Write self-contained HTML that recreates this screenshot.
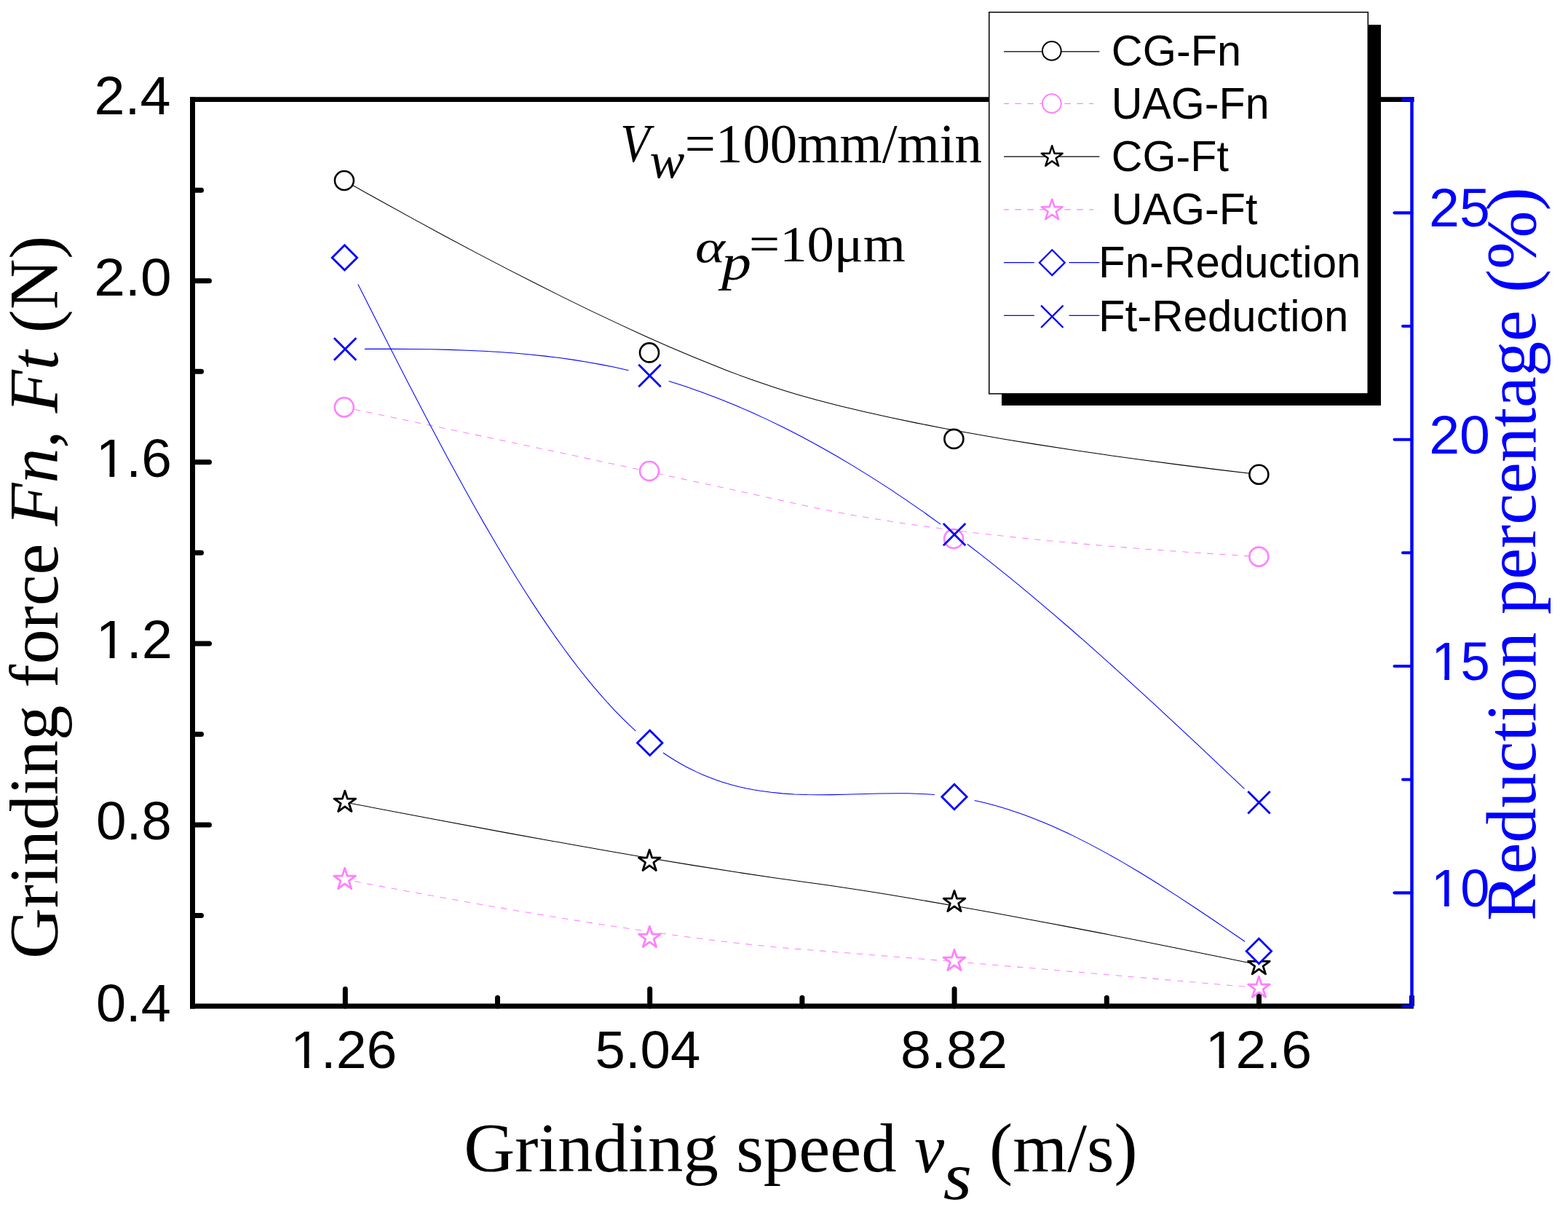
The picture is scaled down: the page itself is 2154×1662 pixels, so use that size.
<!DOCTYPE html><html><head><meta charset="utf-8"><title>Grinding force vs grinding speed</title>
<style>html,body{margin:0;padding:0;background:#fff;}svg{display:block;}.sans{font-family:"Liberation Sans",Arial,sans-serif;}.serif{font-family:"Liberation Serif","Times New Roman",serif;}</style></head><body>
<svg width="2154" height="1662" viewBox="0 0 2154 1662">
<rect x="0" y="0" width="2154" height="1662" fill="#fff"/>
<g stroke="#000" fill="none">
<path d="M261 136.7 H1942.6" stroke-width="6.8"/>
<path d="M264.5 133.3 V1385.6" stroke-width="7"/>
<path d="M261 1382 H1942" stroke-width="6.8"/>
<path d="M264.5 1257.47 H276.5" stroke-width="7" stroke-linecap="round"/>
<path d="M264.5 1132.94 H287.5" stroke-width="7" stroke-linecap="round"/>
<path d="M264.5 1008.41 H276.5" stroke-width="7" stroke-linecap="round"/>
<path d="M264.5 883.88 H287.5" stroke-width="7" stroke-linecap="round"/>
<path d="M264.5 759.35 H276.5" stroke-width="7" stroke-linecap="round"/>
<path d="M264.5 634.82 H287.5" stroke-width="7" stroke-linecap="round"/>
<path d="M264.5 510.29 H276.5" stroke-width="7" stroke-linecap="round"/>
<path d="M264.5 385.76 H287.5" stroke-width="7" stroke-linecap="round"/>
<path d="M264.5 261.23 H276.5" stroke-width="7" stroke-linecap="round"/>
<path d="M474.3 1382 V1358.5" stroke-width="7" stroke-linecap="round"/>
<path d="M892.7 1382 V1358.5" stroke-width="7" stroke-linecap="round"/>
<path d="M1311.1 1382 V1358.5" stroke-width="7" stroke-linecap="round"/>
<path d="M1729.5 1382 V1358.5" stroke-width="7" stroke-linecap="round"/>
<path d="M683.5 1382 V1370.5" stroke-width="7" stroke-linecap="round"/>
<path d="M1101.9 1382 V1370.5" stroke-width="7" stroke-linecap="round"/>
<path d="M1520.3 1382 V1370.5" stroke-width="7" stroke-linecap="round"/>
<path d="M1939.5 1382 V1367.4" stroke-width="7"/>
</g>
<g stroke="#0000ff" fill="none">
<path d="M1939.5 135.2 V1384" stroke-width="4.5"/>
<path d="M1939.5 1382 H1927" stroke-width="4" stroke-linecap="round"/>
<path d="M1939.5 1070.67 H1927" stroke-width="4" stroke-linecap="round"/>
<path d="M1939.5 759.35 H1927" stroke-width="4" stroke-linecap="round"/>
<path d="M1939.5 448.02 H1927" stroke-width="4" stroke-linecap="round"/>
<path d="M1939.5 136.7 H1927" stroke-width="4" stroke-linecap="round"/>
<path d="M1939.5 1226.34 H1915.5" stroke-width="4.1" stroke-linecap="round"/>
<path d="M1939.5 915.01 H1915.5" stroke-width="4.1" stroke-linecap="round"/>
<path d="M1939.5 603.69 H1915.5" stroke-width="4.1" stroke-linecap="round"/>
<path d="M1939.5 292.36 H1915.5" stroke-width="4.1" stroke-linecap="round"/>
</g>
<g fill="none" stroke-width="1.05">
<path d="M472.9 248 L518.48 273.53 L566.74 300.15 L609.65 323.43 L655.01 347.6 L695.25 368.62 L737.7 390.33 L775.27 409.11 L814.8 428.36 L849.7 444.88 L886.33 461.68 L918.56 475.95 L952.27 490.29 L984.46 503.34 L999.99 509.39 L1015.14 515.12 L1029.9 520.52 L1044.29 525.61 L1069.68 534.1 L1080.8 537.61 L1093.8 541.52 L1121.6 549.27 L1153.4 557.47 L1187.26 565.56 L1223.19 573.55 L1258.4 580.88 L1298.32 588.68 L1337.23 595.82 L1381.13 603.42 L1423.74 610.39 L1471.63 617.79 L1517.94 624.57 L1566.04 631.26 L1619.83 638.37 L1675.68 645.38 L1729.4 651.8" stroke="#000"/>
<path d="M473.8 1101.9 L591.02 1124.33 L695.82 1143.86 L792.39 1161.31 L837.59 1169.25 L880.72 1176.67 L952.63 1188.62 L1015.49 1198.53 L1065.53 1205.95 L1139.95 1216.32 L1192.71 1224.34 L1223.64 1229.31 L1256.08 1234.7 L1325.49 1246.74 L1368.77 1254.54 L1414.12 1262.92 L1461.52 1271.87 L1510.98 1281.39 L1562.49 1291.48 L1616.07 1302.15 L1729.4 1325.2" stroke="#000"/>
<path d="M472.8 559.3 L673.39 601.45 L843.39 637.54 L984.37 667.89 L1117.07 696.97 L1137.07 701.04 L1157.93 705.03 L1179.64 708.93 L1202.21 712.74 L1225.64 716.46 L1252.67 720.49 L1280.76 724.4 L1309.9 728.21 L1340.11 731.91 L1371.36 735.5 L1400.4 738.64 L1433.67 742.02 L1467.99 745.29 L1503.37 748.45 L1536.11 751.19 L1573.5 754.15 L1608.05 756.71 L1647.44 759.45 L1687.89 762.08 L1729.4 764.6" stroke="#ff80ff" stroke-dasharray="8.5 8.5" stroke-dashoffset="-14"/>
<path d="M473.6 1208 L551.47 1222.66 L629.34 1236.83 L699.41 1249.11 L765.68 1260.22 L831.33 1270.66 L889.8 1279.39 L944.46 1286.96 L971.71 1290.48 L997.9 1293.68 L1040.02 1298.37 L1061.08 1300.48 L1081.29 1302.33 L1218.44 1313.23 L1359.37 1324.89 L1532.87 1339.72 L1729.5 1356.9" stroke="#ff80ff" stroke-dasharray="8.5 8.5" stroke-dashoffset="-14"/>
<path d="M491.83 390.53 L530.36 466.75 L561.35 527.25 L589.41 581.05 L615.38 629.74 L640.5 675.61 L652.65 697.28 L664.38 717.87 L676.1 738.09 L687.41 757.23 L698.72 776 L709.61 793.71 L720.91 811.69 L731.8 828.6 L742.69 845.09 L753.58 861.15 L764.05 876.16 L774.52 890.74 L784.99 904.87 L795.04 917.99 L805.09 930.68 L815.15 942.91 L825.2 954.66 L834.83 965.48 L844.46 975.83 L854.09 985.72 L863.73 995.13 L873.36 1004.04" stroke="#0000ff"/>
<path d="M911.05 1033.98 L918.59 1039.04 L926.13 1043.79 L933.67 1048.26 L941.63 1052.68 L949.58 1056.79 L957.54 1060.62 L965.5 1064.16 L973.87 1067.61 L982.25 1070.76 L990.63 1073.64 L999 1076.25 L1007.8 1078.73 L1016.59 1080.93 L1025.81 1082.98 L1035.02 1084.76 L1044.23 1086.3 L1059.31 1088.34 L1074.81 1089.86 L1091.14 1090.93 L1108.73 1091.55 L1124.64 1091.73 L1142.65 1091.61 L1160.66 1091.25 L1207.15 1090.02 L1233.11 1089.72 L1246.94 1089.83 L1259.92 1090.17 L1272.06 1090.72 L1283.79 1091.51" stroke="#0000ff"/>
<path d="M1338.65 1099.43 L1347.87 1101.49 L1357.08 1103.75 L1366.29 1106.21 L1375.93 1108.99 L1385.56 1111.97 L1395.19 1115.15 L1404.83 1118.53 L1414.88 1122.25 L1424.93 1126.17 L1434.98 1130.28 L1445.03 1134.57 L1455.5 1139.24 L1465.97 1144.09 L1476.44 1149.13 L1498.22 1160.14 L1520 1171.84 L1542.19 1184.4 L1565.65 1198.3 L1589.94 1213.28 L1615.48 1229.59 L1642.71 1247.48 L1672.86 1267.75 L1710.13 1293.24" stroke="#0000ff"/>
<path d="M500.89 479.39 L536.05 479.35 L565.36 479.49 L592.15 479.83 L616.84 480.38 L640.71 481.18 L663.73 482.22 L685.5 483.5 L706.85 485.06 L728.19 486.96 L748.71 489.12 L768.8 491.59 L788.47 494.37 L807.73 497.46 L826.57 500.86 L844.99 504.57 L863.4 508.67" stroke="#0000ff"/>
<path d="M918.66 523.53 L940.85 530.61 L963.45 538.46 L986.06 546.96 L1009.08 556.27 L1031.68 566.03 L1054.71 576.6 L1077.73 587.8 L1101.17 599.83 L1124.61 612.48 L1148.06 625.75 L1171.5 639.62 L1195.36 654.34 L1219.22 669.67 L1243.5 685.87 L1267.78 702.67 L1292.06 720.06" stroke="#0000ff"/>
<path d="M1328.89 747.53 L1348.15 762.39 L1367.41 777.58 L1387.08 793.41 L1407.17 809.89 L1427.68 827.03 L1448.62 844.81 L1469.96 863.24 L1492.15 882.68 L1514.34 902.38 L1537.36 923.09 L1561.22 944.79 L1586.34 967.87 L1640.34 1018.15 L1709.41 1083.28" stroke="#0000ff"/>
</g>
<circle cx="472.9" cy="248" r="13.0" fill="#fff" stroke="#000" stroke-width="2.6"/>
<circle cx="892" cy="484.4" r="13.0" fill="#fff" stroke="#000" stroke-width="2.6"/>
<circle cx="1310.4" cy="602.9" r="13.0" fill="#fff" stroke="#000" stroke-width="2.6"/>
<circle cx="1729.4" cy="651.8" r="13.0" fill="#fff" stroke="#000" stroke-width="2.6"/>
<circle cx="472.8" cy="559.3" r="13.0" fill="#fff" stroke="#ff80ff" stroke-width="2.6"/>
<circle cx="892" cy="647" r="13.0" fill="#fff" stroke="#ff80ff" stroke-width="2.6"/>
<circle cx="1310.1" cy="740" r="13.0" fill="#fff" stroke="#ff80ff" stroke-width="2.6"/>
<circle cx="1729.4" cy="764.6" r="13.0" fill="#fff" stroke="#ff80ff" stroke-width="2.6"/>
<polygon points="473.8,1086.3 477.3,1097.08 488.64,1097.08 479.47,1103.74 482.97,1114.52 473.8,1107.86 464.63,1114.52 468.13,1103.74 458.96,1097.08 470.3,1097.08" fill="#fff" stroke="#000" stroke-width="2.8" stroke-linejoin="round"/>
<polygon points="892.2,1167.3 895.7,1178.08 907.04,1178.08 897.87,1184.74 901.37,1195.52 892.2,1188.86 883.03,1195.52 886.53,1184.74 877.36,1178.08 888.7,1178.08" fill="#fff" stroke="#000" stroke-width="2.8" stroke-linejoin="round"/>
<polygon points="1311,1223.4 1314.5,1234.18 1325.84,1234.18 1316.67,1240.84 1320.17,1251.62 1311,1244.96 1301.83,1251.62 1305.33,1240.84 1296.16,1234.18 1307.5,1234.18" fill="#fff" stroke="#000" stroke-width="2.8" stroke-linejoin="round"/>
<polygon points="1729.4,1309.6 1732.9,1320.38 1744.24,1320.38 1735.07,1327.04 1738.57,1337.82 1729.4,1331.16 1720.23,1337.82 1723.73,1327.04 1714.56,1320.38 1725.9,1320.38" fill="#fff" stroke="#000" stroke-width="2.8" stroke-linejoin="round"/>
<polygon points="473.6,1192.4 477.1,1203.18 488.44,1203.18 479.27,1209.84 482.77,1220.62 473.6,1213.96 464.43,1220.62 467.93,1209.84 458.76,1203.18 470.1,1203.18" fill="#fff" stroke="#ff80ff" stroke-width="2.8" stroke-linejoin="round"/>
<polygon points="892.4,1272.4 895.9,1283.18 907.24,1283.18 898.07,1289.84 901.57,1300.62 892.4,1293.96 883.23,1300.62 886.73,1289.84 877.56,1283.18 888.9,1283.18" fill="#fff" stroke="#ff80ff" stroke-width="2.8" stroke-linejoin="round"/>
<polygon points="1311,1304.4 1314.5,1315.18 1325.84,1315.18 1316.67,1321.84 1320.17,1332.62 1311,1325.96 1301.83,1332.62 1305.33,1321.84 1296.16,1315.18 1307.5,1315.18" fill="#fff" stroke="#ff80ff" stroke-width="2.8" stroke-linejoin="round"/>
<polygon points="1729.5,1341.3 1733,1352.08 1744.34,1352.08 1735.17,1358.74 1738.67,1369.52 1729.5,1362.86 1720.33,1369.52 1723.83,1358.74 1714.66,1352.08 1726,1352.08" fill="#fff" stroke="#ff80ff" stroke-width="2.8" stroke-linejoin="round"/>
<polygon points="473.4,336.7 490.6,353.9 473.4,371.1 456.2,353.9" fill="#fff" stroke="#0000ff" stroke-width="2.8"/>
<polygon points="892.7,1003.2 909.9,1020.4 892.7,1037.6 875.5,1020.4" fill="#fff" stroke="#0000ff" stroke-width="2.8"/>
<polygon points="1311,1077.3 1328.2,1094.5 1311,1111.7 1293.8,1094.5" fill="#fff" stroke="#0000ff" stroke-width="2.8"/>
<polygon points="1729.4,1289.3 1746.6,1306.5 1729.4,1323.7 1712.2,1306.5" fill="#fff" stroke="#0000ff" stroke-width="2.8"/>
<path d="M458.9 464.3L489.3 494.7M458.9 494.7L489.3 464.3" stroke="#0000ff" stroke-width="2.8" fill="none"/>
<path d="M877.3 500.8L907.7 531.2M877.3 531.2L907.7 500.8" stroke="#0000ff" stroke-width="2.8" fill="none"/>
<path d="M1295.9 718.9L1326.3 749.3M1295.9 749.3L1326.3 718.9" stroke="#0000ff" stroke-width="2.8" fill="none"/>
<path d="M1714.3 1087.1L1744.7 1117.5M1714.3 1117.5L1744.7 1087.1" stroke="#0000ff" stroke-width="2.8" fill="none"/>
<g transform="translate(129.60 156.90) scale(1.0489 1.0176)"><text x="0" y="0" style="font-family:'Liberation Sans',Arial,sans-serif;font-size:72px;" fill="#000">2.4</text></g>
<g transform="translate(129.14 406.00) scale(1.0645 1.0157)"><text x="0" y="0" style="font-family:'Liberation Sans',Arial,sans-serif;font-size:72px;" fill="#000">2.0</text></g>
<g transform="translate(131.72 654.90) scale(1.0400 1.0176)"><text x="0" y="0" style="font-family:'Liberation Sans',Arial,sans-serif;font-size:72px;" fill="#000">1.6</text><rect x="3.16" y="-6.58" width="14.87" height="7.58" fill="#fff"/><rect x="24.54" y="-6.58" width="14.48" height="7.58" fill="#fff"/></g>
<g transform="translate(131.64 904.30) scale(1.0517 1.0176)"><text x="0" y="0" style="font-family:'Liberation Sans',Arial,sans-serif;font-size:72px;" fill="#000">1.2</text><rect x="3.16" y="-6.58" width="14.87" height="7.58" fill="#fff"/><rect x="24.54" y="-6.58" width="14.48" height="7.58" fill="#fff"/></g>
<g transform="translate(131.99 1153.40) scale(1.0372 1.0176)"><text x="0" y="0" style="font-family:'Liberation Sans',Arial,sans-serif;font-size:72px;" fill="#000">0.8</text></g>
<g transform="translate(132.02 1402.60) scale(1.0263 1.0157)"><text x="0" y="0" style="font-family:'Liberation Sans',Arial,sans-serif;font-size:72px;" fill="#000">0.4</text></g>
<g transform="translate(398.99 1466.80) scale(1.0446 1.0157)"><text x="0" y="0" style="font-family:'Liberation Sans',Arial,sans-serif;font-size:72px;" fill="#000">1.26</text><rect x="3.16" y="-6.58" width="14.87" height="7.58" fill="#fff"/><rect x="24.54" y="-6.58" width="14.48" height="7.58" fill="#fff"/></g>
<g transform="translate(817.60 1466.60) scale(1.0326 1.0118)"><text x="0" y="0" style="font-family:'Liberation Sans',Arial,sans-serif;font-size:72px;" fill="#000">5.04</text></g>
<g transform="translate(1236.95 1466.60) scale(1.0496 1.0078)"><text x="0" y="0" style="font-family:'Liberation Sans',Arial,sans-serif;font-size:72px;" fill="#000">8.82</text></g>
<g transform="translate(1655.79 1466.80) scale(1.0438 1.0118)"><text x="0" y="0" style="font-family:'Liberation Sans',Arial,sans-serif;font-size:72px;" fill="#000">12.6</text><rect x="3.16" y="-6.58" width="14.87" height="7.58" fill="#fff"/><rect x="24.54" y="-6.58" width="14.48" height="7.58" fill="#fff"/></g>
<g transform="translate(1963.12 310.90) scale(1.0452 1.0196)"><text x="0" y="0" style="font-family:'Liberation Sans',Arial,sans-serif;font-size:72px;" fill="#0000ff">25</text></g>
<g transform="translate(1963.22 623.10) scale(1.0452 1.0216)"><text x="0" y="0" style="font-family:'Liberation Sans',Arial,sans-serif;font-size:72px;" fill="#0000ff">20</text></g>
<g transform="translate(1966.15 933.60) scale(1.0071 1.0320)"><text x="0" y="0" style="font-family:'Liberation Sans',Arial,sans-serif;font-size:72px;" fill="#0000ff">15</text><rect x="3.16" y="-6.58" width="14.87" height="7.58" fill="#fff"/><rect x="24.54" y="-6.58" width="14.48" height="7.58" fill="#fff"/></g>
<g transform="translate(1965.98 1245.40) scale(1.0029 1.0118)"><text x="0" y="0" style="font-family:'Liberation Sans',Arial,sans-serif;font-size:72px;" fill="#0000ff">10</text><rect x="3.16" y="-6.58" width="14.87" height="7.58" fill="#fff"/><rect x="24.54" y="-6.58" width="14.48" height="7.58" fill="#fff"/></g>
<g transform="translate(79.14 1316.98) scale(0.9789 0.9941) rotate(-90)"><text x="0" y="0" style="font-family:'Liberation Serif','Times New Roman',serif;font-size:97px;" fill="#000">Grinding force <tspan font-style="italic">Fn, Ft</tspan> (N)</text></g>
<g transform="translate(637.26 1609.26) scale(1.0089 0.9919)"><text x="0" y="0" style="font-family:'Liberation Serif','Times New Roman',serif;font-size:96px;" fill="#000">Grinding speed</text></g>
<g transform="translate(1256.34 1610.32) scale(0.9595 0.9822)"><text x="0" y="0" style="font-family:'Liberation Serif','Times New Roman',serif;font-size:96px;font-style:italic" fill="#000">v</text></g>
<g transform="translate(1295.75 1646.64) scale(1.0515 0.9609)"><text x="0" y="0" style="font-family:'Liberation Serif','Times New Roman',serif;font-size:96px;font-style:italic" fill="#000">s</text></g>
<g transform="translate(1359.08 1609.05) scale(1.0046 0.9826)"><text x="0" y="0" style="font-family:'Liberation Serif','Times New Roman',serif;font-size:96px;" fill="#000">(m/s)</text></g>
<g transform="translate(2109.27 1264.99) scale(0.9966 0.9953) rotate(-90)"><text x="0" y="0" style="font-family:'Liberation Serif','Times New Roman',serif;font-size:97px;" fill="#0000ff">Reduction percentage (%)</text></g>
<g transform="translate(852.28 221.79) scale(0.9042 1.0140)"><text x="0" y="0" style="font-family:'Liberation Serif','Times New Roman',serif;font-size:73px;font-style:italic" fill="#000">V</text></g>
<g transform="translate(892.53 244.13) scale(0.9826 0.9657)"><text x="0" y="0" style="font-family:'Liberation Serif','Times New Roman',serif;font-size:73px;font-style:italic" fill="#000">w</text></g>
<g transform="translate(940.80 222.80) scale(1.0257 1.0551)"><text x="0" y="0" style="font-family:'Liberation Serif','Times New Roman',serif;font-size:73px;" fill="#000">=100mm/min</text></g>
<g transform="translate(955.06 359.52) scale(1.0703 0.8806)"><text x="0" y="0" style="font-family:'Liberation Serif','Times New Roman',serif;font-size:73px;font-style:italic" fill="#000">&#945;</text></g>
<g transform="translate(991.17 383.93) scale(1.1184 0.9608)"><text x="0" y="0" style="font-family:'Liberation Serif','Times New Roman',serif;font-size:73px;font-style:italic" fill="#000">p</text></g>
<g transform="translate(1029.01 358.64) scale(1.0234 0.9477)"><text x="0" y="0" style="font-family:'Liberation Serif','Times New Roman',serif;font-size:73px;" fill="#000">=10&#956;m</text></g>
<rect x="1376" y="34" width="521" height="523" fill="#000"/>
<rect x="1358.75" y="16.75" width="520.5" height="524.1" fill="#fff" stroke="#000" stroke-width="1.5"/>
<g fill="none" stroke-width="1.25">
<path d="M1379 70.9 H1510.4" stroke="#000"/>
<path d="M1379 142.3 H1502" stroke="#ff80ff" stroke-dasharray="8.6 8.4" stroke-dashoffset="1.7"/>
<path d="M1379 215.1 H1510.4" stroke="#000"/>
<path d="M1379 287.8 H1502" stroke="#ff80ff" stroke-dasharray="8.6 8.4" stroke-dashoffset="1.7"/>
<path d="M1379 360.7 H1420.8 M1468.5 360.7 H1510.4" stroke="#0000ff"/>
<path d="M1379 433.4 H1420.8 M1468.5 433.4 H1510.4" stroke="#0000ff"/>
</g>
<circle cx="1444.8" cy="69.9" r="12.85" fill="#fff" stroke="#000" stroke-width="2.0"/>
<circle cx="1444.8" cy="142.2" r="12.85" fill="#fff" stroke="#ff80ff" stroke-width="2.0"/>
<polygon points="1445.2,200.3 1448.61,210.8 1459.66,210.8 1450.72,217.29 1454.13,227.8 1445.2,221.31 1436.27,227.8 1439.68,217.29 1430.74,210.8 1441.79,210.8" fill="#fff" stroke="#000" stroke-width="2.5" stroke-linejoin="round"/>
<polygon points="1445.2,273.7 1448.61,284.2 1459.66,284.2 1450.72,290.69 1454.13,301.2 1445.2,294.71 1436.27,301.2 1439.68,290.69 1430.74,284.2 1441.79,284.2" fill="#fff" stroke="#ff80ff" stroke-width="2.5" stroke-linejoin="round"/>
<polygon points="1445.3,343.3 1462.7,360.7 1445.3,378.1 1427.9,360.7" fill="#fff" stroke="#0000ff" stroke-width="2.3"/>
<path d="M1430.1 419.6L1460.5 450M1430.1 450L1460.5 419.6" stroke="#0000ff" stroke-width="2.3" fill="none"/>
<g transform="translate(1526.75 89.90) scale(1.0166 1.0268)"><text x="0" y="0" style="font-family:'Liberation Sans',Arial,sans-serif;font-size:58.5px;" fill="#000">CG-Fn</text></g>
<g transform="translate(1526.64 162.80) scale(1.0117 1.0390)"><text x="0" y="0" style="font-family:'Liberation Sans',Arial,sans-serif;font-size:58.5px;" fill="#000">UAG-Fn</text></g>
<g transform="translate(1526.76 235.20) scale(1.0122 1.0195)"><text x="0" y="0" style="font-family:'Liberation Sans',Arial,sans-serif;font-size:58.5px;" fill="#000">CG-Ft</text></g>
<g transform="translate(1526.64 308.10) scale(1.0130 1.0317)"><text x="0" y="0" style="font-family:'Liberation Sans',Arial,sans-serif;font-size:58.5px;" fill="#000">UAG-Ft</text></g>
<g transform="translate(1508.97 381.30) scale(1.0266 1.0442)"><text x="0" y="0" style="font-family:'Liberation Sans',Arial,sans-serif;font-size:58.5px;" fill="#000">Fn-Reduction</text></g>
<g transform="translate(1508.97 454.50) scale(1.0255 1.0442)"><text x="0" y="0" style="font-family:'Liberation Sans',Arial,sans-serif;font-size:58.5px;" fill="#000">Ft-Reduction</text></g>
</svg></body></html>
